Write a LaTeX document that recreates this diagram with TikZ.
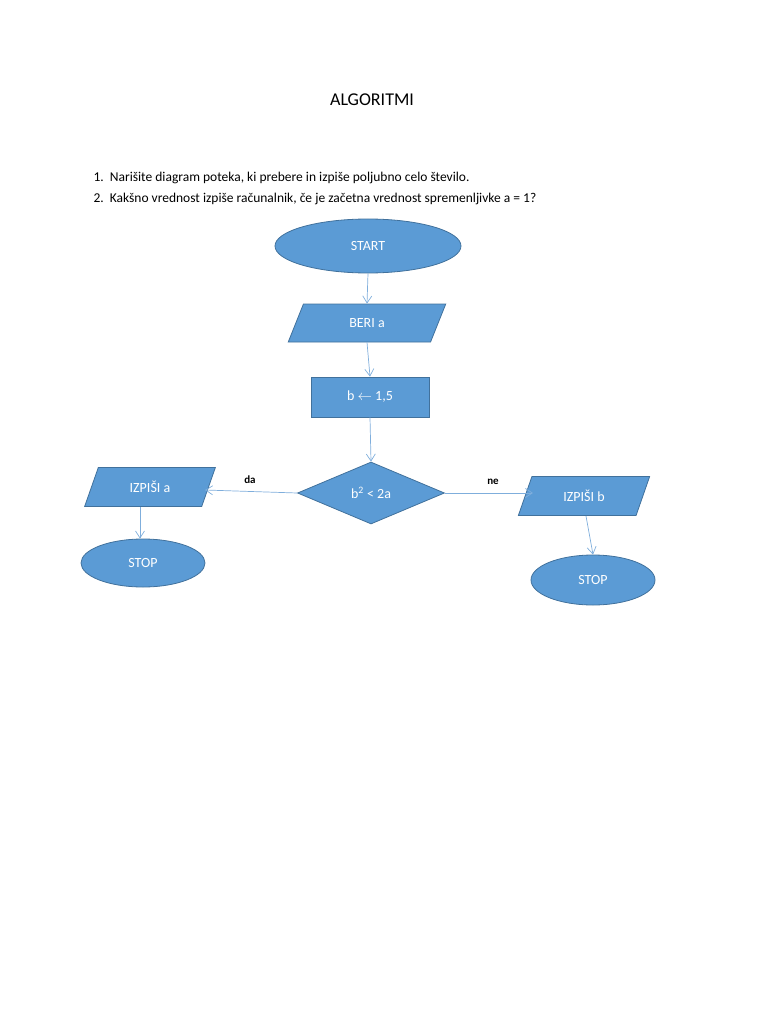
\documentclass[tikz,border=0pt]{standalone}
\usepackage{fontspec}
\setmainfont{Carlito}
\usetikzlibrary{shapes.geometric,arrows.meta}
\definecolor{fillb}{HTML}{5B9BD5}
\definecolor{edgeb}{HTML}{41719C}
\definecolor{arrb}{HTML}{7FAEDC}
\tikzset{
 shp/.style={fill=fillb,draw=edgeb,line width=0.8pt,text=white,font=\fontsize{14}{16}\selectfont,inner sep=0pt},
 oval/.style={shp,ellipse,minimum width=#1,minimum height=50},
 para/.style={shp,trapezium,trapezium left angle=65,trapezium right angle=115,trapezium stretches=true,minimum width=158,minimum height=38},
 rect/.style={shp,rectangle,minimum width=118,minimum height=40},
 dia/.style={shp,diamond,minimum width=147,minimum height=62},
 arr/.style={draw=arrb,line width=0.7pt,-{Straight Barb[length=7pt,width=9pt]}},
 lbl/.style={font=\bfseries\fontsize{11}{13}\selectfont}
}
\begin{document}
\begin{tikzpicture}[x=1pt,y=-1pt]
\useasboundingbox (0,0) rectangle (768,1024);
\node (title) at (372,100) {\fontsize{18}{20}\selectfont ALGORITMI};
\node[anchor=west] (l1) at (90,178) {\fontsize{13.5}{16}\selectfont 1.\ \ Narišite diagram poteka, ki prebere in izpiše poljubno celo število.};
\node[anchor=west] (l2) at (90,199) {\fontsize{13.5}{16}\selectfont 2.\ \ Kakšno vrednost izpiše računalnik, če je začetna vrednost spremenljivke a = 1?};
\node[oval=186,minimum height=54] (start) at (368,246) {START};
\node[para] (beri) at (367,323) {BERI a};
\node[rect] (bb) at (370,397) {b $\leftarrow$ 1,5};
\node[dia] (d) at (371,493) {b\textsuperscript{2} < 2a};
\node[para,minimum width=131,minimum height=39] (ia) at (150,487) {IZPIŠI a};
\node[oval=124,minimum height=48] (s1) at (143,563) {STOP};
\node[para,minimum width=132,minimum height=39] (ib) at (584,496) {IZPIŠI b};
\node[oval=124,minimum height=50] (s2) at (593,580) {STOP};
\draw[arr] (start.south) -- (beri.north);
\draw[arr] (beri.south) -- (bb.north);
\draw[arr] (bb.south) -- (d.north);
\draw[arr] (d.west) -- (205,490) coordinate (ea);
\draw[arr] (d.east) -- (533,493) coordinate (eb);
\draw[arr] (140,507) coordinate (fa) -- (s1.north -| fa);
\draw[arr] (586,516) coordinate (fb) -- (s2.north);
\node[lbl] (da) at (250,480) {da};
\node[lbl] (ne) at (493,482) {ne};
\end{tikzpicture}
\end{document}
